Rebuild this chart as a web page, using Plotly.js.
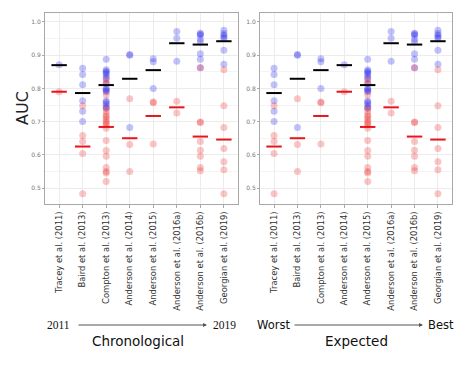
<!DOCTYPE html>
<html>
<head>
<meta charset="utf-8">
<script src="https://cdn.plot.ly/plotly-3.0.1.min.js"></script>
<style>html,body{margin:0;padding:0;background:#fff;}#chart{width:474px;height:368px;}</style>
</head>
<body>
<div id="chart"></div>
<script>
// Tick labels (same on both panels, as in the reference)
const labels = ["Tracey et al. (2011)", "Baird et al. (2013)", "Compton et al. (2013)",
  "Anderson et al. (2014)", "Anderson et al. (2015)", "Anderson et al. (2016a)",
  "Anderson et al. (2016b)", "Georgian et al. (2019)"];

// AUC values per study: blue = one model group, red = the other
const blueTracey = [0.871];
const redTracey = [0.790];
const blueBaird = [0.861, 0.842, 0.811, 0.763, 0.731, 0.700];
const redBaird = [0.748, 0.658, 0.640, 0.604, 0.483];
const blueCompton = [0.888, 0.856, 0.852, 0.848, 0.843, 0.836, 0.830, 0.815, 0.800, 0.797, 0.793, 0.790, 0.762, 0.758, 0.752, 0.745, 0.740];
const redCompton = [0.825, 0.815, 0.780, 0.740, 0.730, 0.720, 0.715, 0.708, 0.700, 0.695, 0.690, 0.680, 0.643, 0.613, 0.596, 0.562, 0.550, 0.545, 0.520];
const blueAnd2014 = [0.902, 0.900, 0.682];
const redAnd2014 = [0.769, 0.631, 0.550];
const blueAnd2015 = [0.889, 0.880, 0.800];
const redAnd2015 = [0.759, 0.757, 0.633];
const blueAnd2016a = [0.971, 0.951, 0.882];
const redAnd2016a = [0.761, 0.726];
const blueAnd2016b = [0.966, 0.964, 0.960, 0.948, 0.940, 0.904, 0.888, 0.862];
const redAnd2016b = [0.862, 0.699, 0.697, 0.640, 0.614, 0.596, 0.562, 0.552];
const blueGeorgian = [0.975, 0.965, 0.960, 0.955, 0.950, 0.915, 0.873];
const redGeorgian = [0.856, 0.748, 0.682, 0.619, 0.579, 0.555, 0.483];

// Mean lines per study (chronological order)
const meanBlue = [0.870, 0.786, 0.810, 0.829, 0.855, 0.936, 0.932, 0.942];
const meanRed = [0.790, 0.625, 0.684, 0.650, 0.717, 0.743, 0.655, 0.646];

// Study shown in each column of the "Expected" panel
const expectedOrder = [1, 3, 4, 0, 2, 5, 6, 7];

const blueAll = [blueTracey, blueBaird, blueCompton, blueAnd2014, blueAnd2015, blueAnd2016a, blueAnd2016b, blueGeorgian];
const redAll = [redTracey, redBaird, redCompton, redAnd2014, redAnd2015, redAnd2016a, redAnd2016b, redGeorgian];

function pointsFor(groups, order) {
  const x = [], y = [];
  order.forEach((s, col) => { groups[s].forEach(v => { x.push(col); y.push(v); }); });
  return {x, y};
}
function meansFor(means, order) {
  return {x: order.map((s, col) => col), y: order.map(s => means[s])};
}

const chrono = [0, 1, 2, 3, 4, 5, 6, 7];
const BLUE = 'rgba(30,30,235,0.27)';
const RED = 'rgba(235,40,40,0.27)';
const traces = [];
[[chrono, 'x', 'y'], [expectedOrder, 'x2', 'y2']].forEach(([order, xa, ya]) => {
  const b = pointsFor(blueAll, order), r = pointsFor(redAll, order);
  const mb = meansFor(meanBlue, order), mr = meansFor(meanRed, order);
  traces.push({type: 'scatter', mode: 'markers', x: b.x, y: b.y, xaxis: xa, yaxis: ya,
    marker: {size: 7, color: BLUE, line: {width: 0}}, hoverinfo: 'skip'});
  traces.push({type: 'scatter', mode: 'markers', x: r.x, y: r.y, xaxis: xa, yaxis: ya,
    marker: {size: 7, color: RED, line: {width: 0}}, hoverinfo: 'skip'});
  traces.push({type: 'scatter', mode: 'markers', x: mb.x, y: mb.y, xaxis: xa, yaxis: ya,
    marker: {symbol: 'line-ew', size: 11, line: {width: 2, color: '#000'}}, hoverinfo: 'skip'});
  traces.push({type: 'scatter', mode: 'markers', x: mr.x, y: mr.y, xaxis: xa, yaxis: ya,
    marker: {symbol: 'line-ew', size: 11, line: {width: 2, color: '#e8141c'}}, hoverinfo: 'skip'});
});

const W = 474, H = 368;
const px = v => v / W, py = v => 1 - v / H;

const xAxisBase = {
  range: [-0.6, 7.6], tickmode: 'array', tickvals: chrono, ticktext: labels,
  tickangle: -90, tickfont: {family: 'DejaVu Sans', size: 8.4, color: '#333'},
  ticks: 'outside', ticklen: 3, tickcolor: '#aaa',
  showgrid: true, gridcolor: '#ececec', gridwidth: 1, zeroline: false,
  showline: true, linecolor: '#a8a8a8', linewidth: 1, mirror: true, automargin: false, fixedrange: true
};
const yAxisBase = {
  range: [0.452, 1.027], tickvals: [0.5, 0.6, 0.7, 0.8, 0.9, 1.0], ticktext: ['0.5', '0.6', '0.7', '0.8', '0.9', '1.0'],
  tickfont: {family: 'DejaVu Sans', size: 6, color: '#777'},
  ticks: 'outside', ticklen: 2, tickcolor: '#aaa',
  showgrid: true, gridcolor: '#ececec', gridwidth: 1, zeroline: false,
  minor: {dtick: 0.1, tick0: 0.55, showgrid: true, gridcolor: '#f4f4f4', ticks: ''},
  showline: true, linecolor: '#a8a8a8', linewidth: 1, mirror: true, automargin: false, fixedrange: true,
  domain: [py(204), py(13)]
};

function label(text, x, y, font, extra) {
  return Object.assign({text, xref: 'paper', yref: 'paper', x: px(x), y: py(y),
    xanchor: 'center', yanchor: 'middle', showarrow: false, font}, extra || {});
}
const sans = s => ({family: 'DejaVu Sans', size: s, color: '#111'});
const serif = s => ({family: 'Liberation Serif', size: s, color: '#111'});
function arrow(x0, x1, y) {
  return {text: '', xref: 'paper', yref: 'paper', x: px(x1), y: py(y), ax: -(x1 - x0), ay: 0,
    showarrow: true, arrowhead: 2, arrowsize: 0.8, arrowwidth: 1, arrowcolor: '#555'};
}

const layout = {
  width: W, height: H, margin: {l: 0, r: 0, t: 0, b: 0},
  paper_bgcolor: '#fff', plot_bgcolor: '#fff', showlegend: false,
  xaxis: Object.assign({}, xAxisBase, {domain: [px(45), px(238)], anchor: 'y'}),
  xaxis2: Object.assign({}, xAxisBase, {domain: [px(260), px(452)], anchor: 'y2'}),
  yaxis: Object.assign({}, yAxisBase, {anchor: 'x'}),
  yaxis2: Object.assign({}, yAxisBase, {anchor: 'x2'}),
  annotations: [
    label('AUC', 23, 108, {family: 'DejaVu Sans', size: 16, color: '#222'}, {textangle: -90}),
    label('2011', 58.5, 325, serif(11.5)),
    label('2019', 224.5, 325, serif(11.5)),
    arrow(77, 207, 325),
    label('Chronological', 138, 340.5, sans(13.5)),
    label('Worst', 273.5, 325, sans(11.5)),
    label('Best', 440.5, 325, sans(11.5)),
    arrow(293, 423, 325),
    label('Expected', 356.7, 340.5, sans(13.5))
  ]
};

Plotly.newPlot('chart', traces, layout, {staticPlot: true, displayModeBar: false});
</script>
</body>
</html>
